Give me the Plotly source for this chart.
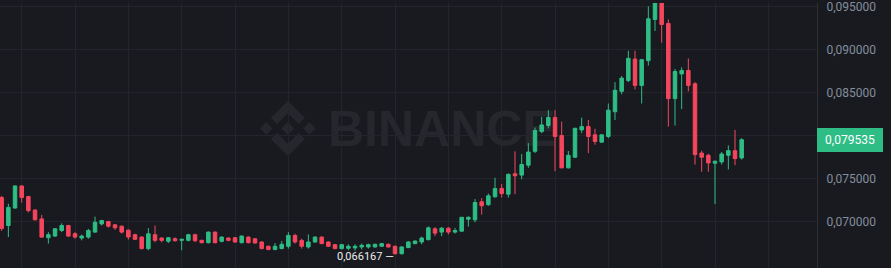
import plotly.graph_objects as go
import base64

# ---- data ----
opens = [0.0728, 0.06954, 0.07158, 0.07415, 0.07291, 0.07135, 0.07031, 0.06812, 0.06831, 0.06896,
         0.06954, 0.06858, 0.06808, 0.06819, 0.06877, 0.06973, 0.0700, 0.06962, 0.06946, 0.0690,
         0.06847, 0.06819, 0.06685, 0.06847, 0.06808, 0.0677, 0.0680, 0.06781, 0.06781, 0.06847,
         0.06781, 0.06754, 0.06877, 0.0677, 0.06808, 0.06812, 0.06754, 0.06819, 0.0680, 0.06762,
         0.06712, 0.06674, 0.06685, 0.06712, 0.06839, 0.06781, 0.06704, 0.06762, 0.06819, 0.06762,
         0.06731, 0.06685, 0.06689, 0.06693, 0.06704, 0.06704, 0.06704, 0.06712, 0.06735, 0.06712,
         0.06625, 0.06697, 0.06743, 0.06762, 0.06789, 0.06916, 0.06877, 0.06923, 0.06877, 0.06888,
         0.07027, 0.0702, 0.0723, 0.07196, 0.07288, 0.07384, 0.07319, 0.07556, 0.07541, 0.07657,
         0.07818, 0.08048, 0.08118, 0.08213, 0.08002, 0.07626, 0.07749, 0.08068, 0.08106, 0.0801,
         0.07925, 0.07991, 0.08279, 0.08517, 0.08644, 0.08893, 0.08586, 0.08874, 0.09354, 0.0958,
         0.09308, 0.08432, 0.0872, 0.0876, 0.08605, 0.07798, 0.07772, 0.0768, 0.07695, 0.07772,
         0.07826, 0.07741]
highs = [0.0730, 0.07207, 0.0742, 0.0742, 0.0730, 0.0714, 0.07077, 0.06877, 0.06924, 0.0698,
         0.06962, 0.06877, 0.06847, 0.06916, 0.07058, 0.0702, 0.07008, 0.0697, 0.06954, 0.06908,
         0.06858, 0.0683, 0.06923, 0.06954, 0.06816, 0.0682, 0.06816, 0.0680, 0.06858, 0.06858,
         0.0679, 0.06885, 0.06885, 0.06827, 0.06816, 0.0682, 0.06839, 0.06827, 0.06808, 0.0677,
         0.0672, 0.0675, 0.06773, 0.06877, 0.06858, 0.0680, 0.0685, 0.06827, 0.06827, 0.0677,
         0.06739, 0.06739, 0.06735, 0.06735, 0.06743, 0.06743, 0.06743, 0.0675, 0.06743, 0.0672,
         0.06712, 0.06773, 0.0678, 0.06823, 0.06943, 0.06935, 0.06935, 0.06935, 0.06927, 0.0705,
         0.0706, 0.07262, 0.07273, 0.07326, 0.0751, 0.07438, 0.0756, 0.07818, 0.07787, 0.07914,
         0.08094, 0.08221, 0.08298, 0.08298, 0.08164, 0.07822, 0.08094, 0.0821, 0.08183, 0.0808,
         0.0802, 0.08375, 0.08624, 0.08695, 0.0899, 0.0899, 0.08895, 0.09508, 0.0962, 0.0961,
         0.09354, 0.08778, 0.08797, 0.0890, 0.08624, 0.07826, 0.0779, 0.0771, 0.0781, 0.07887,
         0.08068, 0.07971]
lows = [0.0689, 0.06819, 0.0715, 0.07222, 0.07107, 0.07016, 0.0681, 0.06743, 0.0682, 0.06877,
        0.06823, 0.0680, 0.06781, 0.0680, 0.0687, 0.06954, 0.0693, 0.06904, 0.0686, 0.0679,
        0.06785, 0.06675, 0.06666, 0.06758, 0.06758, 0.0675, 0.06766, 0.06666, 0.0677, 0.0676,
        0.06745, 0.06745, 0.06745, 0.06758, 0.0677, 0.06754, 0.06745, 0.06745, 0.06745, 0.06677,
        0.06666, 0.06666, 0.06677, 0.06685, 0.06743, 0.06685, 0.06685, 0.06754, 0.06735, 0.06704,
        0.06677, 0.06677, 0.06666, 0.06662, 0.06674, 0.06685, 0.06696, 0.06704, 0.06696, 0.066167,
        0.06618, 0.0669, 0.06735, 0.06735, 0.06781, 0.0683, 0.0683, 0.0685, 0.0686, 0.0688,
        0.06942, 0.06992, 0.07081, 0.07184, 0.0728, 0.0728, 0.0728, 0.07319, 0.07492, 0.07626,
        0.07798, 0.08029, 0.08086, 0.07588, 0.07618, 0.07618, 0.0774, 0.08029, 0.07798, 0.07895,
        0.07915, 0.07971, 0.08183, 0.08482, 0.08624, 0.0854, 0.08375, 0.08817, 0.0922, 0.09085,
        0.08106, 0.08118, 0.0831, 0.08517, 0.07664, 0.0758, 0.0758, 0.07204, 0.07665, 0.07607,
        0.07657, 0.07722]
closes = [0.0692, 0.07165, 0.07415, 0.0728, 0.07127, 0.0702, 0.06819, 0.06847, 0.06916, 0.06954,
          0.06831, 0.06819, 0.06831, 0.06896, 0.06992, 0.07012, 0.06946, 0.06927, 0.06877, 0.0682,
          0.06793, 0.06685, 0.06858, 0.06781, 0.06781, 0.06812, 0.06777, 0.06793, 0.06847, 0.06777,
          0.06754, 0.06877, 0.06754, 0.06819, 0.06781, 0.06762, 0.06831, 0.06754, 0.0675, 0.06685,
          0.06674, 0.06712, 0.06735, 0.06839, 0.06762, 0.06712, 0.06762, 0.06819, 0.06743, 0.06712,
          0.06685, 0.06731, 0.06712, 0.06712, 0.06723, 0.06731, 0.06735, 0.06743, 0.06704, 0.06625,
          0.06704, 0.06762, 0.06773, 0.06808, 0.06927, 0.06865, 0.06923, 0.06877, 0.06896, 0.0705,
          0.0705, 0.07222, 0.07184, 0.0730, 0.07384, 0.07326, 0.0755, 0.07533, 0.07665, 0.0781,
          0.0806, 0.08126, 0.08213, 0.07991, 0.07626, 0.07772, 0.08086, 0.08106, 0.07991, 0.07933,
          0.0801, 0.08298, 0.08529, 0.08671, 0.08901, 0.08586, 0.08886, 0.09362, 0.0958, 0.09296,
          0.08432, 0.08748, 0.0876, 0.08586, 0.0778, 0.07749, 0.07683, 0.07703, 0.07787, 0.07826,
          0.07734, 0.079535]
x_index = list(range(len(opens)))
y_ticks = [0.070, 0.075, 0.080, 0.085, 0.090, 0.095]
# the 0.080 label sits under the last-price badge in the reference, so it is left blank
y_tick_text = ["0,070000", "0,075000", "", "0,085000", "0,090000", "0,095000"]

BG = "#181a20"
GREEN = "#2ebd85"
RED = "#f6465d"
GRID = "#22252c"
TXT = "#848e9c"

fig = go.Figure()
fig.add_trace(go.Candlestick(
    x=x_index, open=opens, high=highs, low=lows, close=closes,
    increasing=dict(line=dict(color=GREEN, width=1), fillcolor=GREEN),
    decreasing=dict(line=dict(color=RED, width=1), fillcolor=RED),
    whiskerwidth=0, hoverinfo="skip", showlegend=False,
))

# faint watermark (logo + wordmark), drawn beneath the data
wm = "#25272d"
svg = f'''<svg xmlns="http://www.w3.org/2000/svg" width="300" height="64" viewBox="0 0 300 64">
<g transform="translate(2,4) scale(0.44)" fill="{wm}">
<path d="M38.73 53.2l24.59-24.58 24.6 24.6 14.3-14.31L63.32 0 24.42 38.9l14.31 14.3zM0 63.31l14.3-14.31 14.31 14.31-14.31 14.3zM38.73 73.41l24.59 24.59 24.6-24.6 14.31 14.29-38.9 38.91-38.91-38.88-.02-.02 14.33-14.29zM98 63.31l14.3-14.3 14.31 14.3-14.31 14.31z"/>
<path d="M77.83 63.3L63.32 48.78 48.81 63.3 63.32 77.83z"/>
</g>
<text x="70" y="50" font-family="Liberation Sans, Arial, sans-serif" font-weight="700" font-size="50" fill="{wm}">BINANCE</text>
</svg>'''
src = "data:image/svg+xml;base64," + base64.b64encode(svg.encode()).decode()
fig.add_layout_image(dict(source=src, xref="paper", yref="paper",
                          x=258 / 817, y=1 - 95 / 268, sizex=300 / 817, sizey=64 / 268,
                          xanchor="left", yanchor="top", sizing="stretch", layer="below"))

# lowest price marker
low_val = min(lows)
low_i = lows.index(low_val)
fig.add_annotation(x=low_i, y=low_val, xref="x", yref="y", text=f"{low_val:.6f}".replace(".", ",") + " —",
                   showarrow=False, xanchor="right", yanchor="middle", xshift=1, yshift=-2,
                   font=dict(family="Roboto, sans-serif", size=11, color="#eaecef"))

# last price label
last = closes[-1]
fig.add_annotation(x=1, y=last, xref="paper", yref="y", text=f"{last:.6f}".replace(".", ","),
                   showarrow=False, xanchor="left", yanchor="middle", width=62, height=20,
                   bgcolor=GREEN, bordercolor=GREEN, borderpad=1, align="center",
                   font=dict(family="Roboto, sans-serif", size=12, color="#ffffff"))

fig.update_layout(
    width=891, height=268,
    margin=dict(l=0, r=74, t=0, b=0),
    paper_bgcolor=BG, plot_bgcolor="rgba(0,0,0,0)",
    separators=",.",
    showlegend=False,
    xaxis=dict(range=[-0.255, 122.3], rangeslider=dict(visible=False), showticklabels=False,
               showgrid=True, gridcolor=GRID, gridwidth=1, tick0=3, dtick=8, tickmode="linear",
               zeroline=False, showline=False, fixedrange=True),
    yaxis=dict(range=[0.06459, 0.09546], side="right", tickmode="array", tickvals=y_ticks,
               ticktext=y_tick_text, ticklabeloverflow="allow",
               showgrid=True, gridcolor=GRID, gridwidth=1, zeroline=False,
               showline=True, linecolor="#2b2f36", linewidth=1, ticks="", ticklabelstandoff=6,
               tickfont=dict(family="Roboto, sans-serif", size=12, color=TXT), fixedrange=True),
    boxgap=0.25,
)

fig.write_html("out.html")
